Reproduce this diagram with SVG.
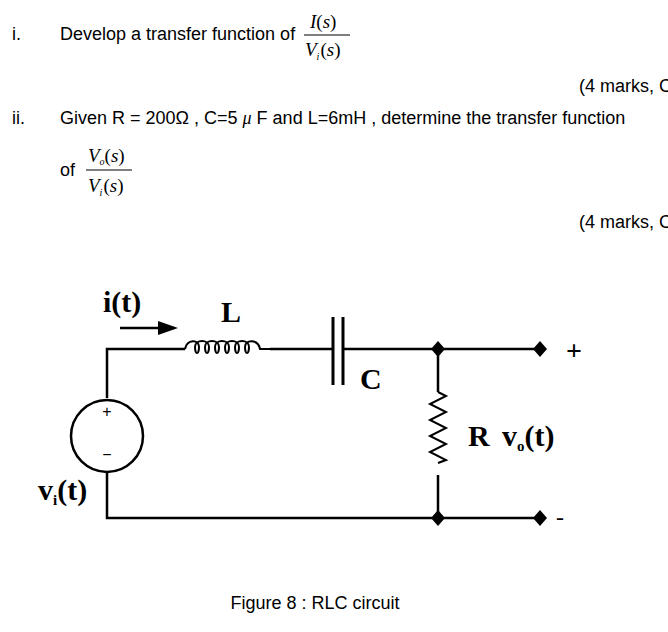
<svg xmlns="http://www.w3.org/2000/svg" width="668" height="632" viewBox="0 0 668 632">
<style>
.t{font-family:"Liberation Sans",Arial,sans-serif;font-size:18px;fill:#000}
.m{font-family:"Liberation Serif","Times New Roman",serif;font-style:italic;font-size:19px;fill:#000}
.n{font-style:normal}
.c{font-family:"Liberation Serif","Times New Roman",serif;font-weight:bold;font-size:30px;fill:#000}
.w{stroke:#000;stroke-width:2.5;fill:none}
</style>
<rect width="668" height="632" fill="#fff"/>
<text class="t" x="12" y="40">i.</text>
<text class="t" x="60" y="40">Develop a transfer function of</text>
<text class="m" x="310" y="28">I<tspan class="n">(</tspan>s<tspan class="n">)</tspan></text>
<line x1="304" y1="35" x2="350" y2="35" stroke="#000" stroke-width="1.2"/>
<text class="m" x="305" y="56">V<tspan font-size="10" dy="4">i</tspan><tspan class="n" dy="-4" dx="1">(</tspan>s<tspan class="n">)</tspan></text>
<text class="t" x="579" y="92">(4 marks, C</text>
<text class="t" x="12" y="124">ii.</text>
<text class="t" x="60" y="124">Given R = 200Ω , C=5 <tspan font-family="Liberation Serif" font-style="italic">μ</tspan> F and L=6mH , determine the transfer function</text>
<text class="t" x="60" y="176">of</text>
<text class="m" x="88" y="162">V<tspan font-size="10" dy="3">o</tspan><tspan class="n" dy="-3">(</tspan>s<tspan class="n">)</tspan></text>
<line x1="86" y1="170" x2="132" y2="170" stroke="#000" stroke-width="1.2"/>
<text class="m" x="88" y="192">V<tspan font-size="10" dy="4">i</tspan><tspan class="n" dy="-4" dx="1">(</tspan>s<tspan class="n">)</tspan></text>
<text class="t" x="579" y="228">(4 marks, C</text>
<g id="connectors">
<path class="w" d="M107 398 V349 H185 M270 349 H333 M343 349 H540 M438 349 V392 M438 475 V518 M107 473 V518 H540"/>
<path d="M185 349 C187 339 199 339 199 347 C199 355 195 355 195 347 C195 339 209 339 209 347 C209 355 205 355 205 347 C205 339 219 339 219 347 C219 355 215 355 215 347 C215 339 229 339 229 347 C229 355 225 355 225 347 C225 339 239 339 239 347 C239 355 235 355 235 347 C235 339 249 339 249 347 C249 355 245 355 245 347 C245 339 258 339 260 349 L270 349" stroke="#000" stroke-width="2" fill="none"/>
<line x1="333" y1="317" x2="333" y2="385" stroke="#000" stroke-width="3"/>
<line x1="343" y1="317" x2="343" y2="385" stroke="#000" stroke-width="3"/>
<path d="M438 392 l8 4 l-16 8 l16 8 l-16 8 l16 8 l-16 8 l16 8 l-16 8 l16 8 l-8 3" stroke="#000" stroke-width="2" fill="none"/>
<path d="M120 328 H160" stroke="#000" stroke-width="2.5"/>
<path d="M158 321 L178 328 L158 335 Z" fill="#000"/>
</g>
<g id="source">
<circle cx="107" cy="436" r="36" fill="#fff" stroke="#000" stroke-width="2.5"/>
<text x="107" y="417" text-anchor="middle" font-family="Liberation Sans" font-size="16">+</text>
<text x="107" y="460" text-anchor="middle" font-family="Liberation Sans" font-size="16">−</text>
</g>
<g id="nodes">
<path d="M438 341 l7 8 l-7 8 l-7 -8 z M540 341 l7 8 l-7 8 l-7 -8 z M438 510 l7 8 l-7 8 l-7 -8 z M540 510 l7 8 l-7 8 l-7 -8 z" fill="#000"/>
</g>
<text class="c" x="103" y="312">i(t)</text>
<text class="c" x="221" y="322">L</text>
<text class="c" x="360" y="389">C</text>
<text class="c" x="468" y="446">R</text>
<text class="c" x="502" y="446">v<tspan font-size="15" dy="5">o</tspan><tspan dy="-5">(t)</tspan></text>
<text x="566" y="360" font-family="Liberation Serif" font-size="28" font-weight="bold">+</text>
<text x="556" y="525" font-family="Liberation Serif" font-size="24">-</text>
<text class="c" x="38" y="500">v<tspan font-size="15" dy="5">i</tspan><tspan dy="-5">(t)</tspan></text>
<text class="t" x="315" y="609" text-anchor="middle">Figure 8 : RLC circuit</text>
</svg>
